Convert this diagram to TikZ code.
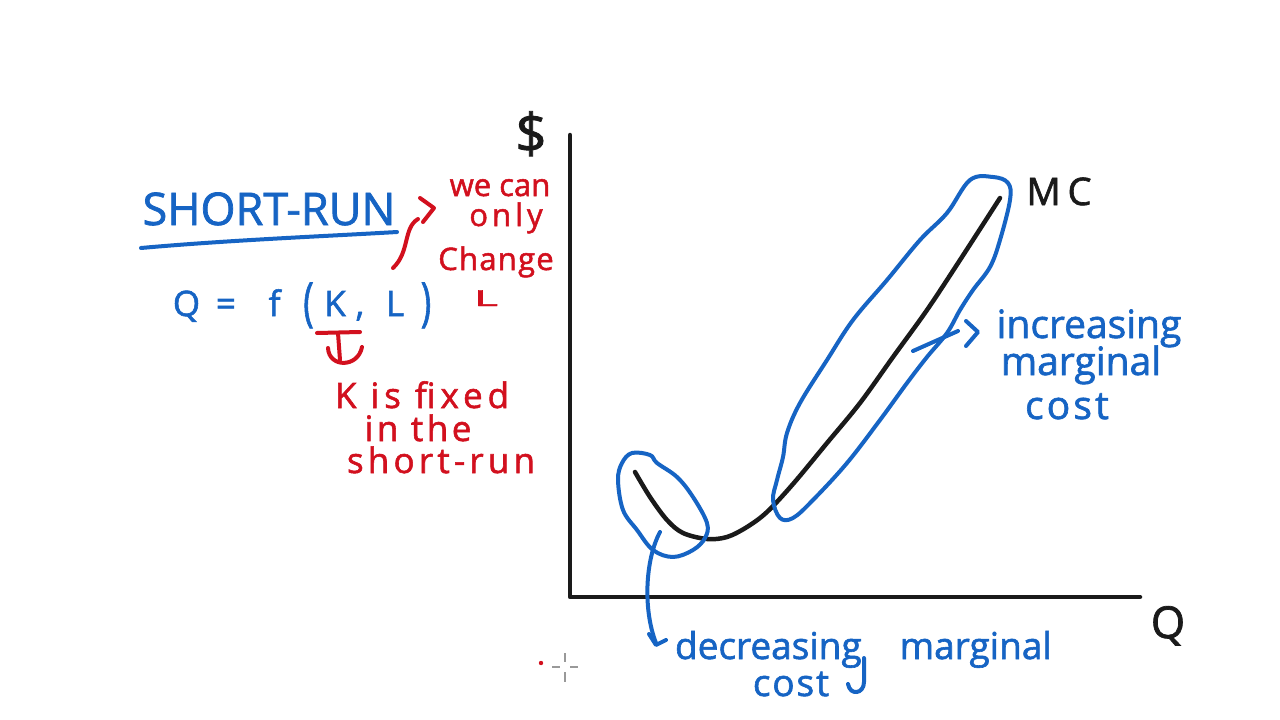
\documentclass[tikz,border=0pt]{standalone}
\usepackage{fontspec}
\setmainfont{Open Sans}[FakeBold=1.6]
\usetikzlibrary{arrows.meta}
\definecolor{inkblue}{RGB}{22,100,196}
\definecolor{inkred}{RGB}{210,16,30}
\definecolor{inkblack}{RGB}{26,26,26}
\begin{document}
\begin{tikzpicture}[x=1pt,y=-1pt,
  pen/.style={line width=4pt, line cap=round, line join=round},
  bluepen/.style={pen, draw=inkblue},
  redpen/.style={pen, draw=inkred},
  blackpen/.style={pen, draw=inkblack, line width=4.5pt},
  hf/.style 2 args={font=\fontsize{#1pt}{#1pt}\selectfont\addfontfeatures{LetterSpace=#2}},
  hand/.style={inner sep=0pt, outer sep=0pt, anchor=base},
  btxt/.style={hand, text=inkblue},
  rtxt/.style={hand, text=inkred},
  ktxt/.style={hand, text=inkblack}]
\fill[white] (0,0) rectangle (1280,720);
\useasboundingbox (0,0) rectangle (1280,720);

% ---------- left: blue notes ----------
\node[btxt, hf={45}{0}] (short) at (269,225) {SHORT-RUN};
\draw[bluepen] (141,248) .. controls (230,240) and (330,236) .. (397,232);
\node[btxt, hf={35}{0}, anchor=base west] (eq) at (170,316)
  {\makebox[33pt]{Q}\hspace{12pt}\makebox[22pt]{=}\hspace{25pt}\makebox[25pt]{f}\hspace{13pt}%
   \makebox[17pt]{\raisebox{-4pt}{\scalebox{1}[1.5]{(}}}\makebox[36pt]{K}\hspace{4pt}\makebox[6pt]{,}%
   \hspace{14pt}\makebox[36pt]{L}\hspace{4pt}\makebox[18pt]{\raisebox{-4pt}{\scalebox{1}[1.5]{)}}}};

% ---------- red notes ----------
\node[rtxt, hf={31}{0}] (wecan) at (500,196) {we can};
\node[rtxt, hf={31}{13}] (only) at (506,226) {only};
\node[rtxt, hf={31}{4}] (change) at (496,270) {Change};
\node[rtxt, hf={22}{0}] (smallL) at (486,306) {\scalebox{2.1}[1]{L}};
\coordinate (ra1) at (393,268);
\coordinate (ra2) at (418,219);
\draw[redpen] (ra1) .. controls (410,252) and (403,228) .. (ra2);
\draw[redpen] (420,198) -- (434,208) -- (423,222);

\draw[redpen] (317,333) -- (360,332);
\draw[redpen] (338,333) -- (340,360);
\draw[redpen] (328,348) .. controls (329,368) and (358,368) .. (362,347);
\node[rtxt, hf={35}{14}] (kfixed) at (422,408) {K is fixed};
\node[rtxt, hf={35}{10}] (inthe) at (418,441) {in the};
\node[rtxt, hf={35}{12}] (shortrun) at (441,473) {short-run};

% ---------- axes ----------
\coordinate (ytop) at (570,135);
\coordinate (origin) at (570,597);
\coordinate (xend) at (1140,597);
\draw[blackpen] (ytop) -- (origin) -- (xend);
\node[ktxt, hf={55}{0}] (dollar) at (531,153) {\$};
\node[ktxt, hf={44}{0}] (qlab) at (1168,638) {Q};

% ---------- MC curve ----------
\draw[blackpen] plot[smooth, tension=0.55] coordinates
  {(635,472) (650,497) (667,520) (683,533) (707,539) (727,537) (747,527) (767,512)
   (793,484) (827,443) (860,403) (893,357) (927,310) (960,260) (1000,198)};
\node[ktxt, hf={38}{18}] (mc) at (1059,205) {MC};

% ---------- blue loops ----------
\draw[bluepen] plot[smooth cycle, tension=0.6] coordinates
  {(970,180) (993,177) (1008,183) (1010,200) (1000,240) (990,267) (973,290) (960,310)
   (947,333) (927,357) (907,383) (880,420) (847,463) (813,500) (793,518) (780,518)
   (773,500) (777,480) (783,457) (787,433) (800,403) (827,360) (853,320) (887,280)
   (920,240) (947,213)};
\draw[bluepen] plot[smooth cycle, tension=0.6] coordinates
  {(632,453) (650,455) (657,463) (677,477) (693,497) (707,523) (705,538) (693,550)
   (673,557) (653,550) (637,530) (623,510) (618,480) (622,463)};

% increasing marginal cost
\coordinate (ia1) at (913,351);
\coordinate (ia2) at (958,331);
\draw[bluepen] (ia1) -- (ia2);
\draw[bluepen] (966,321) -- (978,332) -- (966,346);
\node[btxt, hf={39}{0}] (incr) at (1089,338) {increasing};
\node[btxt, hf={39}{0}] (marg1) at (1081,375) {marginal};
\node[btxt, hf={39}{8}] (cost1) at (1067,419) {cost};

% decreasing marginal cost
\node[btxt, hf={37}{0}, anchor=base west] (decr) at (675,659) {decreasing\hspace{38pt}marginal};
\node[btxt, hf={37}{5}] (cost2) at (791,696) {cost};
\coordinate (da1) at (660,532);
\coordinate (da2) at (656,643);
\draw[bluepen] (da1) .. controls (645,560) and (643,610) .. (da2);
\draw[bluepen] (649,634) -- (656,645) -- (666,640);
\draw[bluepen] (864,658) -- (864,682) .. controls (864,694) and (850,696) .. (848,684);

% ---------- cursor ----------
\fill[inkred] (541,663) circle (2.2pt);
\begin{scope}[draw=gray!80, line width=1.4pt]
  \draw (565,653) -- (565,662);
  \draw (565,672) -- (565,682);
  \draw (552,667) -- (560,667);
  \draw (570,667) -- (578,667);
\end{scope}
\end{tikzpicture}
\end{document}
